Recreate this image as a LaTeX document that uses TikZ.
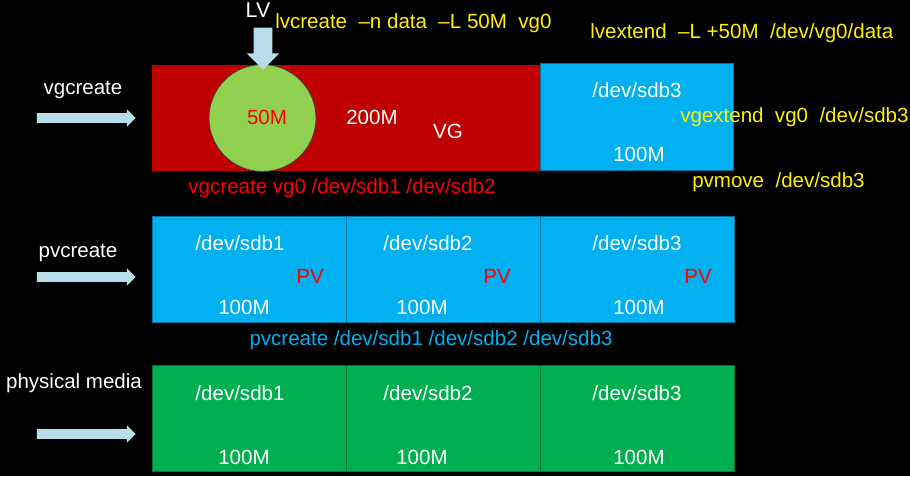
\documentclass[tikz,border=0pt]{standalone}
\usepackage{fontspec}
\setmainfont{Liberation Sans}
\usepackage{xcolor}
\usetikzlibrary{shapes.arrows}
\definecolor{vgred}{HTML}{C00000}
\definecolor{pvblue}{HTML}{00B0F0}
\definecolor{pmgreen}{HTML}{00B050}
\definecolor{lvgreen}{HTML}{92D050}
\definecolor{arrowblue}{HTML}{B7DEE8}
\tikzset{
  cell/.style={fill=#1,draw=#1!65!black,line width=0.6pt,inner sep=0pt,anchor=north west,minimum width=145.5pt,minimum height=79.5pt},
  txt/.style={inner sep=0pt,text=white,font=\fontsize{15.4}{18}\selectfont},
  cmd/.style={txt,text=yellow,anchor=west},
  stagearrow/.style={single arrow,fill=arrowblue,draw=none,inner xsep=0pt,inner ysep=3.4pt,minimum width=0pt,single arrow head extend=3pt,minimum height=74pt,anchor=tip},
  lvarrow/.style={single arrow,fill=arrowblue,draw=none,inner xsep=0pt,inner ysep=6.75pt,minimum width=0pt,single arrow head extend=5.25pt,minimum height=31.5pt,anchor=tip,rotate=-90}
}
\begin{document}
\begin{tikzpicture}[x=0.75pt,y=-0.75pt]
  \fill[black] (0,0) rectangle (910,476);
  \useasboundingbox (0,0) rectangle (910,476);
  % volume group row
  \node[cell=vgred,draw=none,minimum width=291pt] (vg) at (152,65) {};
  \node[cell=pvblue,minimum width=144.75pt,minimum height=80.25pt] (newpv) at (540,63) {};
  \node[circle,fill=lvgreen,draw=black!75,line width=0.6pt,minimum size=80.25pt,inner sep=0pt] (lv) at (262.5,118) {};
  \node[lvarrow] (lvin) at (263,70) {};
  \node[txt,font=\fontsize{16}{18}\selectfont] (lvname) at (258,10) {LV};
  \node[txt,text=red] (lvsize) at (267,117) {50M};
  \node[txt] (vgsize) at (372,117) {200M};
  \node[txt] (vgname) at (448,131) {VG};
  \node[txt] (newdev) at (637,90) {/dev/sdb3};
  \node[txt] (newsize) at (639,154) {100M};
  % physical volume row and physical media row
  \foreach \i/\x/\dx/\sx/\px in {1/152/240/244/310,2/346/428/422/497,3/540/637/639/698} {
    \node[cell=pvblue] (pv\i) at (\x,216) {};
    \node[txt] (pvdev\i) at (\dx,243) {/dev/sdb\i};
    \node[txt,text=red] (pvtag\i) at (\px,276) {PV};
    \node[txt] (pvsize\i) at (\sx,307) {100M};
    \node[cell=pmgreen] (pm\i) at (\x,365) {};
    \node[txt] (pmdev\i) at (\dx,393) {/dev/sdb\i};
    \node[txt] (pmsize\i) at (\sx,457) {100M};
  }
  % stages on the left
  \node[txt] (vgstage) at (83,90) {vgcreate};
  \node[stagearrow] (vgin) at (136,118) {};
  \node[txt] (pvstage) at (78,253) {pvcreate};
  \node[stagearrow] (pvin) at (136,277) {};
  \node[txt] (pmstage) at (74,383) {physical media};
  \node[stagearrow] (pmin) at (136,434) {};
  % commands
  \node[cmd] (lvcmd) at (275,23) {lvcreate\ \ –n data\ \ –L 50M\ \ vg0};
  \node[cmd] (extcmd) at (590,33) {lvextend\ \ –L +50M\ \ /dev/vg0/data};
  \node[cmd] (vgextcmd) at (680,117) {vgextend\ \ vg0\ \ /dev/sdb3};
  \node[cmd] (movecmd) at (692,182) {pvmove\ \ /dev/sdb3};
  \node[txt,text=red] (vgcmd) at (342,188) {vgcreate vg0 /dev/sdb1 /dev/sdb2};
  \node[txt,text=pvblue] (pvcmd) at (431,340) {pvcreate /dev/sdb1 /dev/sdb2 /dev/sdb3};
\end{tikzpicture}
\end{document}
